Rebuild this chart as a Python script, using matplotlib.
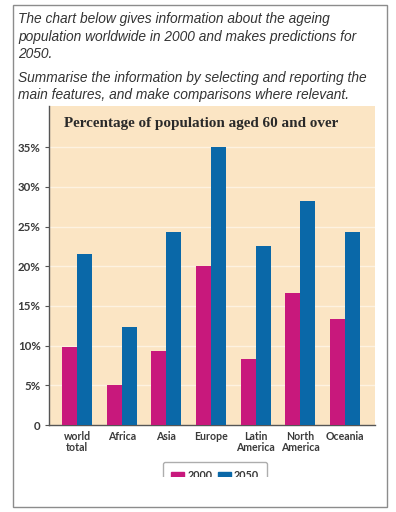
import numpy as np
import matplotlib
matplotlib.use("Agg")
import matplotlib.pyplot as plt
from matplotlib.patches import Rectangle, Patch

# values (percent aged 60+)
regions = ["world\ntotal", "Africa", "Asia", "Europe", "Latin\nAmerica", "North\nAmerica", "Oceania"]
pct_2000 = [9.8, 5.0, 9.3, 20.0, 8.3, 16.6, 13.4]
pct_2050 = [21.6, 12.3, 24.3, 35.0, 22.6, 28.2, 24.3]
yticks = [0, 5, 10, 15, 20, 25, 30, 35]
ytick_labels = ["0", "5%", "10%", "15%", "20%", "25%", "30%", "35%"]
series_names = ["2000", "2050"]

MAGENTA = "#c8187c"
BLUE = "#0a68a8"
CREAM = "#fbe5c4"
TXT = "#333333"

W, H = 396, 512
fig = plt.figure(figsize=(W / 100, H / 100), dpi=100)


def fx(px):
    return px / W


def fy(py):
    return 1 - py / H


# outer frame
fig.patches.append(Rectangle((fx(13), fy(507)), fx(374), 502 / H, transform=fig.transFigure,
                             fill=False, edgecolor="#8c8c8c", lw=1.0, zorder=0))

# task text
lines = [
    ("The chart below gives information about the ageing", 23),
    ("population worldwide in 2000 and makes predictions for", 41),
    ("2050.", 58),
    ("Summarise the information by selecting and reporting the", 82),
    ("main features, and make comparisons where relevant.", 99),
]
for s, yb in lines:
    fig.text(fx(18), fy(yb), s, fontsize=9.9, style="italic", family="Liberation Sans",
             color=TXT, va="baseline", ha="left")

ax = fig.add_axes([fx(49), fy(425), fx(326), (425 - 106) / H])
ax.set_facecolor(CREAM)
x = np.arange(len(regions))
bw = 0.335
ax.bar(x - bw / 2, pct_2000, bw, color=MAGENTA, zorder=3)
ax.bar(x + bw / 2, pct_2050, bw, color=BLUE, zorder=3)

ax.set_xlim(-0.626, 6.67)
ax.set_ylim(0, 40.2)
for yv in yticks[1:]:
    ax.axhline(yv, color="white", lw=1.0, alpha=0.5, zorder=1)

ax.set_yticks(yticks)
ax.set_yticklabels(ytick_labels, fontsize=8.3, fontweight="bold", family="Lato", color="#3a3a3a")
ax.set_xticks(x)
ax.set_xticklabels(regions, fontsize=7.6, fontweight="bold", family="Lato", color="#3a3a3a",
                   linespacing=1.05)
ax.tick_params(axis="y", length=3, width=0.8, color="#555555", pad=3)
ax.tick_params(axis="x", length=0, pad=4)
for side in ["top", "right"]:
    ax.spines[side].set_visible(False)
for side in ["left", "bottom"]:
    ax.spines[side].set_color("#555555")
    ax.spines[side].set_linewidth(1.0)

ax.text(fx(201), fy(123), "Percentage of population aged 60 and over", transform=fig.transFigure,
        fontsize=10.9, fontweight="bold", family="Liberation Serif", color="#2a2a2a",
        ha="center", va="center")

handles = [Patch(color=MAGENTA), Patch(color=BLUE)]
leg = fig.legend(handles, series_names, loc="upper left", bbox_to_anchor=(fx(163), fy(462)),
                 ncol=2, frameon=True, fancybox=True, handlelength=1.2, borderaxespad=0,
                 handleheight=0.6, columnspacing=0.5, handletextpad=0.3, borderpad=0.75,
                 prop={"family": "Lato", "weight": "bold", "size": 7.8})
leg.get_frame().set_edgecolor("#999999")
leg.get_frame().set_linewidth(1.0)
for t in leg.get_texts():
    t.set_color("#3a3a3a")

# the legend is cut off in the source image
fig.patches.append(Rectangle((fx(150), fy(505)), fx(125), 28 / H, transform=fig.transFigure,
                             facecolor="white", edgecolor="none", zorder=10))

fig.savefig("out.png", dpi=100)
